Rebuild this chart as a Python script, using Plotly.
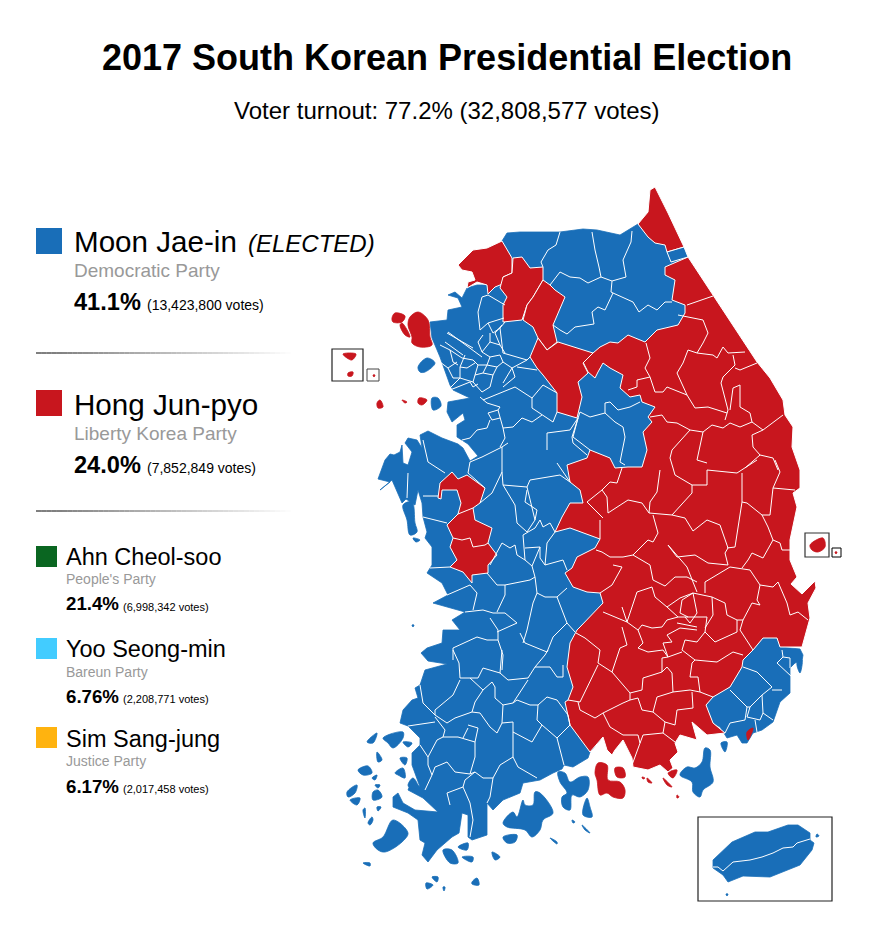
import plotly.graph_objects as go

BLUE = "#196EB8"
RED = "#C8161E"
GREY = "#999999"
FONT = "Liberation Sans"

# outlines, in picture pixels
blue_west = [(502,241),(507,233),(520,232),(543,232),(560,232),(583,229),(597,230),(620,235),(638,224),(648,237),(655,243),
    (665,245),(667,252),(671,262),(688,257),(690,330),(660,480),(620,620),(600,740),(590,752),(588,758),(573,767),(564,765),
    (562,769),(553,773),(540,780),(523,783),(520,793),(503,800),(493,810),(487,803),(487,835),(472,840),(468,837),(468,815),
    (462,813),(459,833),(452,837),(437,850),(428,862),(422,855),(425,843),(420,840),(418,820),(408,813),(393,807),(393,797),
    (398,793),(403,803),(415,810),(438,812),(423,798),(408,790),(412,780),(420,787),(412,765),(412,753),(420,745),(420,738),
    (408,726),(400,723),(403,710),(412,700),(418,698),(415,688),(420,685),(425,670),(447,664),(428,661),(421,653),(427,648),
    (442,643),(443,630),(460,630),(452,620),(465,612),(433,603),(448,595),(442,583),(427,573),(432,565),(432,547),(425,538),
    (427,532),(423,517),(422,503),(418,490),(415,505),(406,499),(402,503),(392,480),(380,490),(390,482),(378,479),(385,460),
    (390,454),(394,455),(400,452),(402,445),(403,463),(408,465),(412,452),(405,443),(408,438),(417,440),(422,448),(420,435),
    (428,431),(442,438),(458,444),(463,448),(470,461),(478,456),(468,444),(457,437),(457,425),(465,420),(463,413),(452,422),
    (447,412),(448,402),(470,398),(453,390),(450,385),(445,370),(440,357),(432,338),(430,322),(447,320),(448,310),(462,307),
    (458,298),(448,295),(455,292),(462,298),(467,288),(477,285),(488,285),(495,270)]
blue_busan = [(800,649),(803,655),(802,661),(795,663),(790,668),(790,693),(780,702),(773,722),(762,730),(753,733),(747,743),(742,743),(737,735),
    (727,738),(720,727),(713,723),(706,705),(713,697),(730,687),(742,667),(743,660),(753,650),(763,638),(777,638),(780,647)]
blue_sokcho = [(667,252),(684,247),(688,257),(671,262)]
blue_islands = [
    [(418,367),(427,358),(435,363),(425,372),(420,372)], [(432,398),(438,398),(441,406),(433,410)],
    [(403,505),(412,502),(415,523),(417,532),(410,535),(407,520)], [(413,538),(420,540),(416,542)],
    [(373,843),(383,837),(393,820),(408,833),(402,842),(385,852),(378,850)], [(367,742),(377,733),(373,743)],
    [(383,738),(403,732),(403,738),(393,748),(388,743)], [(403,742),(412,743),(408,747)], [(377,752),(382,760),(378,762)],
    [(400,758),(407,758),(405,765)], [(358,770),(368,766),(372,773),(363,775)], [(395,773),(403,768),(405,778),(398,775)],
    [(372,778),(377,775),(375,780)], [(408,785),(413,778),(418,787),(410,788)], [(375,785),(380,785),(378,788)],
    [(347,792),(357,785),(355,793),(348,797)], [(373,792),(378,790),(382,797),(373,800)], [(350,800),(360,798),(357,805)],
    [(377,807),(381,807),(378,811)], [(363,810),(365,808),(365,818)], [(368,823),(372,817),(373,820),(370,825)],
    [(363,863),(370,863),(370,866)], [(443,850),(452,850),(458,863),(450,863)], [(458,847),(468,843),(467,850)],
    [(462,857),(473,857),(472,862)], [(492,852),(500,857),(495,860)], [(432,877),(438,877),(437,882)],
    [(426,883),(433,885),(427,889)], [(472,882),(477,878),(479,885),(472,884)], [(443,887),(445,887),(444,891)],
    [(503,823),(513,812),(517,817),(523,800),(525,805),(533,805),(535,792),(540,793),(553,813),(543,820),(540,830),(532,837),(525,830),(507,827)],
    [(503,837),(517,835),(515,842),(507,843)], [(550,838),(557,842),(557,844)],
    [(558,772),(565,773),(570,782),(580,777),(588,777),(588,790),(580,797),(572,795),(570,810),(563,807),(562,797),(567,793),(560,782)],
    [(587,798),(590,807),(592,817),(583,815)], [(582,825),(590,833),(585,830)], [(572,820),(575,822),(573,823)],
    [(705,748),(710,750),(710,767),(713,782),(703,790),(700,797),(693,792),(692,782),(680,775),(687,767),(695,768),(702,762)],
    [(721,743),(727,742),(725,752)], [(742,735),(745,735),(743,743)], [(797,663),(802,660),(800,673)],
    [(412,625),(414,625),(413,627)], [(817,834),(819,836),(816,837)], [(726,894),(728,894),(727,896)],
]
jeju = [(713,860),(732,842),(755,832),(768,832),(788,825),(798,825),(810,833),(810,840),(814,843),(812,850),(800,865),(788,870),
    (770,877),(743,876),(728,882),(723,875),(713,868)]

red_east = [(688,257),(713,295),(745,343),(757,362),(770,378),(783,400),(785,415),(793,427),(792,447),(800,470),(800,488),(793,493),
    (797,507),(793,527),(790,540),(790,560),(797,577),(791,584),(802,594),(815,581),(816,588),(808,603),(810,618),(802,647),
    (780,647),(777,638),(763,638),(753,650),(743,660),(742,667),(730,687),(713,697),(706,705),(713,723),(725,733),(707,735),
    (692,722),(697,740),(680,735),(675,743),(678,752),(670,760),(673,768),(668,772),(660,765),(648,770),(633,767),(632,758),
    (623,740),(615,750),(612,755),(607,750),(603,737),(590,752),(570,725),(565,702),(568,700),(573,687),(567,667),(570,643),
    (577,630),(580,627),(603,603),(600,593),(587,592),(573,587),(565,573),(572,568),(577,557),(595,548),(600,539),(570,528),
    (555,532),(562,517),(570,503),(583,503),(580,490),(570,482),(567,465),(587,458),(590,450),(610,458),(615,468),(628,467),
    (642,467),(647,450),(643,432),(652,422),(648,417),(655,407),(642,402),(640,395),(630,397),(620,388),(623,375),(610,368),
    (603,363),(598,372),(595,378),(588,372),(583,362),(593,353),(600,347),(610,342),(618,343),(628,335),(645,342),(657,330),
    (678,325),(685,313),(685,305),(672,300),(675,280),(665,275),(665,267)]
red_tip = [(638,224),(648,212),(650,190),(655,187),(668,213),(684,247),(667,252),(665,245),(655,243),(648,237)]
red_northwest = [(502,241),(512,258),(512,273),(503,277),(505,283),(495,287),(488,294),(487,285),(477,282),(467,288),(468,282),
    (475,280),(472,272),(462,270),(458,265),(473,250),(487,248)]
red_pocheon = [(513,258),(522,257),(530,268),(543,267),(543,280),(533,297),(527,305),(522,320),(503,322),(503,305),(507,297),(500,288),(503,277),(512,273)]
red_gapyeong = [(543,280),(550,285),(555,290),(565,297),(553,325),(557,342),(547,350),(538,338),(533,327),(523,320),(527,305),(533,297)]
red_yeoju = [(530,357),(538,338),(547,350),(558,342),(593,353),(583,363),(588,373),(578,382),(582,397),(577,418),(557,412),(557,393),(543,375),(537,368)]
red_jeonbuk = [(438,498),(440,483),(452,472),(458,479),(467,475),(485,488),(480,503),(473,508),(475,520),(485,525),(492,528),
    (488,543),(497,555),(488,565),(488,573),(472,575),(472,583),(463,572),(450,567),(457,560),(450,547),(453,538),(447,525),
    (458,514),(461,503),(457,490),(442,490),(441,499)]
red_mainland = [red_east, red_tip, red_northwest, red_pocheon, red_gapyeong, red_yeoju, red_jeonbuk]
red_islands = [
    [(410,317),(418,312),(428,320),(430,337),(432,345),(420,347),(412,343),(412,337),(408,325)],
    [(402,323),(410,337),(405,335),(400,325)], [(392,318),(395,313),(405,316),(402,322),(393,322)],
    [(377,403),(380,400),(383,407),(378,408)], [(402,400),(407,402),(405,403)], [(419,398),(427,400),(422,405),(418,403)],
    [(595,773),(598,763),(607,765),(608,780),(620,782),(625,790),(623,798),(613,797),(607,793),(600,795),(597,780)],
    [(668,773),(677,770),(673,778)], [(663,778),(672,787),(667,785)], [(647,778),(652,783),(648,782)],
    [(615,768),(623,768),(625,777),(617,777)], [(642,777),(645,778),(643,779)], [(677,795),(679,797),(677,798)],
    [(747,732),(753,728),(750,737),(748,740)],
    [(343,354),(356,354),(352,360),(347,358)], [(348,373),(353,372),(352,376),(348,376)], [(373,375),(375,375),(374,377)],
    [(810,545),(823,538),(825,547),(818,552),(812,550)], [(835,552),(837,552),(836,554)],
]

# district borders
borders_north = [
    [(592,232),(595,250),(599,267),(601,277),(612,281),(611,292),(613,293),(605,310),(598,307),(592,312),(594,324),(575,327),(567,334),(560,330),(553,325)],
    [(632,231),(631,242),(623,260),(626,277),(612,281)],
    [(601,277),(588,283),(580,278),(570,277),(560,272),(550,285)],
    [(613,293),(633,302),(639,312),(648,305),(657,310),(665,302),(672,302)],
    [(560,232),(556,245),(548,250),(541,262),(543,267)],
    [(488,295),(482,297),(478,312),(480,330),(488,323),(504,318)], [(488,295),(505,305)],
    [(488,323),(493,333),(500,328),(505,322)], [(447,333),(473,348)], [(445,342),(463,355)],
    [(500,328),(503,353),(527,360),(530,357)], [(527,360),(512,368),(515,377),(503,387)],
    [(537,370),(517,367)], [(543,385),(532,398),(532,408),(542,415),(553,422),(557,412)], [(543,385),(557,393)],
    [(515,387),(532,398)], [(515,387),(500,393),(483,400)], [(450,390),(470,382),(473,387),(478,384)],
    [(480,397),(487,403),(500,407),(498,410),(503,428),(513,427),(522,418),(532,422),(542,415)],
    [(498,410),(488,413),(492,420),(500,418)], [(490,420),(487,428),(477,430),(470,438),(462,440)],
    [(503,428),(505,438),(500,447)], [(547,433),(547,450)], [(547,433),(570,430),(578,418)], [(578,418),(573,437),(590,450)],
    [(448,332),(473,350),(482,357)], [(440,345),(450,350),(462,358),(473,360)], [(465,355),(460,367),(467,368),(475,363)],
    [(450,350),(453,362),(458,365)], [(440,362),(448,368),(457,362)], [(483,335),(478,342),(482,352),(490,342),(500,345)],
    [(490,333),(490,342)], [(502,325),(495,333),(500,345),(505,353)],
    [(482,352),(490,357),(500,355),(503,362),(497,367),(487,365),(478,365),(473,360)],
    [(490,357),(487,365),(483,373),(493,375),(497,367)], [(478,365),(475,375),(483,373)], [(503,362),(512,368),(503,383)],
    [(493,375),(490,387),(482,392),(473,382),(475,375)], [(473,382),(460,378),(460,367)], [(460,378),(450,388)],
    [(448,368),(453,378),(460,378)],
    # inland blue pocket
    [(605,403),(610,402),(618,410),(630,407),(640,402)],
    [(605,403),(605,413),(615,422),(623,427),(625,437),(623,447),(620,462),(625,465)],
    [(580,412),(590,417),(605,413)], [(580,412),(572,437),(573,443),(587,455)],
]
borders_east = [
    [(678,315),(687,317),(703,320),(708,333),(703,343),(697,353),(688,350),(683,363),(677,373),(687,395),(667,387),(663,392),(655,392),(650,377),(645,368),(650,358),(646,343)],
    [(687,305),(713,296)], [(697,353),(713,355),(717,358),(723,347),(728,353),(745,352)],
    [(733,355),(735,365),(723,377),(721,383),(728,410),(725,420)], [(735,368),(740,370),(757,363)],
    [(687,395),(695,408),(708,407),(727,413)], [(650,377),(637,380),(637,387),(628,390)],
    [(730,410),(733,388),(740,385),(740,407),(750,413),(752,422),(763,430),(783,415)],
    [(752,422),(740,427),(730,423),(723,428),(712,425),(703,432),(690,430),(677,423),(667,422),(662,415),(650,417)],
    [(763,430),(752,435),(753,447),(760,455),(745,468)], [(760,455),(773,458),(778,470)],
    [(703,432),(697,460),(707,463)], [(690,430),(672,450),(670,458),(673,468)],
    [(742,473),(742,502),(735,547),(727,548)], [(775,460),(780,472),(773,488),(770,515),(762,515),(747,503),(742,502)],
    [(773,488),(795,490)], [(762,515),(768,527),(773,540),(780,543),(782,550),(790,550)],
    [(773,540),(763,558),(752,553),(748,560),(742,568)], [(707,470),(737,473),(757,460)],
    [(673,468),(675,475),(692,485),(707,485),(707,470)],
    [(692,485),(692,493),(672,515),(685,518),(693,531),(707,520),(720,525),(728,548),(725,553),(728,565),(708,563),(695,555),(677,557),(668,545),(687,567),(697,592)],
    [(660,470),(657,492),(650,502),(649,513),(672,515)], [(622,468),(617,483),(610,482),(602,490),(587,502)],
    [(602,490),(607,497),(608,513),(628,500),(642,503),(649,513)],
    [(653,515),(658,533),(653,542),(648,540),(633,555),(650,565),(653,580),(665,586),(675,577),(687,577),(697,582)],
    [(600,520),(600,539)], [(587,502),(603,518)], [(596,550),(602,552),(610,557),(623,557),(633,555)],
    [(613,565),(622,567),(612,585),(600,593)],
    [(652,587),(655,597),(667,607),(680,598),(693,593),(712,597),(713,615),(705,628)],
    [(705,582),(730,567),(750,570),(760,585),(757,600),(760,605),(752,603),(743,620)],
    [(760,585),(773,587),(778,582),(787,603),(790,615),(798,612),(808,620)], [(705,582),(705,593)],
    [(712,597),(725,603),(727,615),(737,620),(743,620)], [(743,620),(740,630),(753,650)],
    [(737,620),(737,632),(715,642),(705,632),(697,642),(685,640),(682,650),(695,660),(717,662),(733,652),(743,655)],
    [(667,607),(678,617),(707,617),(705,632)], [(693,593),(682,600),(680,613),(688,617)], [(693,593),(697,613),(690,623),(685,617)],
    [(677,623),(697,627)], [(627,622),(603,612)], [(627,622),(637,592),(652,587)],
    [(622,607),(627,622),(638,630),(642,625),(652,628),(662,627),(667,620),(678,617)],
    [(638,630),(643,643),(638,648),(648,652),(663,650),(668,657),(682,652)], [(667,635),(672,642),(663,643),(668,657),(662,658),(662,672),(643,678),(642,690),(630,693),(612,672),(620,648),(627,645),(622,627)],
    [(667,635),(680,628),(697,630)],
    [(576,633),(585,638),(600,650),(598,663),(612,672)], [(598,665),(580,702),(568,700)],
    [(578,702),(580,710),(595,718),(603,713),(623,703),(630,700),(630,693)],
    [(630,700),(638,698),(642,710),(653,712),(657,697),(673,692),(672,673),(667,667),(662,672)],
    [(673,692),(690,690),(700,692),(698,677),(690,677),(692,663),(695,660)], [(692,692),(693,708),(677,710),(675,725),(665,722),(653,712)],
    [(665,722),(663,733),(643,735),(640,743),(632,765)], [(603,713),(610,727),(623,735),(638,735),(640,743)], [(663,733),(675,742)],
    [(700,692),(713,697)], [(453,538),(462,540),(470,538),(473,547),(485,545),(488,543)], [(458,514),(473,508)],
]
borders_busan = [
    [(743,667),(757,672),(772,687),(762,695),(763,713),(773,720)], [(730,690),(747,707),(750,707),(762,695)],
    [(747,707),(745,720),(730,723),(725,733)], [(772,690),(782,690)], [(782,650),(783,657),(777,663),(792,677)],
    [(783,657),(790,658),(790,668)], [(750,707),(747,717),(760,720),(763,713)], [(755,720),(757,732)],
]
borders_south = [
    [(423,440),(428,462),(445,473)], [(470,462),(468,473),(485,488)], [(470,462),(482,457),(502,447),(508,443)],
    [(502,447),(502,472),(492,493),(480,503)], [(502,472),(503,485),(527,487),(530,480),(560,475),(570,482)],
    [(503,485),(515,505),(517,523),(527,532),(535,520),(527,487)], [(527,490),(525,502),(537,510),(535,520)],
    [(557,463),(570,482)], [(408,473),(407,498)], [(423,496),(438,496)], [(423,517),(447,523)], [(430,568),(450,567)],
    [(447,595),(470,585),(477,593),(473,610)], [(465,612),(483,610),(493,613),(505,613),(517,623),(497,632)],
    [(490,618),(498,630),(498,640)], [(487,573),(497,585),(505,585),(505,595),(497,612)],
    [(505,585),(530,580),(535,577),(537,593),(533,603),(527,630),(523,643)],
    [(490,565),(502,543),(510,548),(515,545),(517,555),(525,560),(532,566),(535,577)], [(532,566),(540,547),(525,548)],
    [(525,560),(523,535),(535,528),(540,520),(543,527),(550,523),(555,532),(547,543),(545,565),(563,560),(567,570)],
    [(545,565),(540,558),(540,547)], [(537,593),(545,597),(557,597),(563,613),(567,623),(575,632)], [(557,597),(567,588)],
    [(525,643),(547,652),(553,637),(567,623)], [(520,633),(525,643)], [(498,640),(503,655),(502,670)],
    [(453,648),(467,642),(477,637),(487,640),(498,640)], [(453,648),(453,660)],
    [(453,650),(459,663),(460,678),(478,678),(483,668),(500,673),(502,650)],
    [(500,673),(508,680),(528,678),(535,667),(550,667),(557,677),(563,677),(563,665)], [(535,667),(545,655),(548,650)],
    [(528,680),(513,703),(503,705),(495,698),(495,687),(492,682),(483,690),(470,678)],
    [(460,680),(455,690),(453,695),(435,710),(435,715),(423,703),(420,685)],
    [(483,690),(475,702),(472,712),(480,713),(490,727),(497,733),(502,723),(503,705)],
    [(472,712),(455,718),(447,723),(435,715)], [(435,722),(408,726)], [(435,717),(445,730),(443,737),(458,737),(475,742),(478,728),(468,725)],
    [(443,737),(437,740),(428,757),(420,745)], [(428,757),(428,765),(432,775),(425,790)],
    [(432,775),(435,767),(440,765),(447,762),(455,772),(470,774),(475,757),(475,742)],
    [(470,774),(475,772),(483,778),(493,778),(500,765),(513,757),(513,722),(502,723)],
    [(513,732),(532,742),(542,725),(537,720),(538,705),(530,705),(517,700),(513,703)],
    [(538,705),(547,697),(557,700),(568,715),(570,725),(557,738),(542,725)], [(557,738),(560,750),(564,765)],
    [(513,757),(518,767),(537,778)], [(493,778),(490,797),(487,803)], [(475,772),(465,780),(463,787),(447,793),(450,805)],
    [(463,787),(470,803),(473,820),(470,837)], [(468,728),(463,738)],
]
borders_jeju = [[(713,867),(718,867),(723,871),(733,862),(750,860),(762,857),(773,853),(783,848),(793,847),(797,843),(810,839)]]

# candidate panel
names = ["Moon Jae-in", "Hong Jun-pyo", "Ahn Cheol-soo", "Yoo Seong-min", "Sim Sang-jung"]
parties = ["Democratic Party", "Liberty Korea Party", "People's Party", "Bareun Party", "Justice Party"]
shares = ["41.1%", "24.0%", "21.4%", "6.76%", "6.17%"]
votes = ["(13,423,800 votes)", "(7,852,849 votes)", "(6,998,342 votes)", "(2,208,771 votes)", "(2,017,458 votes)"]
colors = [BLUE, RED, "#0A6621", "#42CCFF", "#FFB30F"]
swatch_top = [228, 390, 546, 638, 727]
name_y = [241, 404, 557, 649, 739]
party_y = [270, 433, 579, 672, 761]
share_y = [302, 465, 603, 696, 786]
vote_y = [305, 468, 607, 699, 789]
divider_y = [353, 511]


def closed(polys):
    xs, ys = [], []
    for poly in polys:
        for x, y in poly + poly[:1]:
            xs.append(x)
            ys.append(y)
        xs.append(None)
        ys.append(None)
    return xs, ys


def split_lines(lines):
    xs, ys = [], []
    for line in lines:
        for x, y in line:
            xs.append(x)
            ys.append(y)
        xs.append(None)
        ys.append(None)
    return xs, ys


fig = go.Figure()


def add_fill(polys, color, outline=None, shape="linear"):
    xs, ys = closed(polys)
    fig.add_trace(go.Scatter(x=xs, y=ys, mode="lines", fill="toself", fillcolor=color, hoverinfo="skip",
                             line=dict(color=outline or color, width=1 if outline else 0.8, shape=shape)))


add_fill([blue_west, blue_busan, jeju], BLUE)
add_fill(blue_islands, BLUE, shape="spline")
add_fill(red_islands, RED, shape="spline")
for poly in red_mainland:
    add_fill([poly], RED, "white")
add_fill([blue_sokcho], BLUE, "white")

xs, ys = split_lines(borders_north + borders_east + borders_busan + borders_south + borders_jeju)
fig.add_trace(go.Scatter(x=xs, y=ys, mode="lines", line=dict(color="white", width=1), hoverinfo="skip"))


def add_text(x, y, text, size, color="black", bold=False, italic=False, anchor="left"):
    if bold:
        text = "<b>" + text + "</b>"
    if italic:
        text = "<i>" + text + "</i>"
    fig.add_annotation(x=x, y=y, text=text, showarrow=False, xanchor=anchor, yanchor="middle",
                       font=dict(family=FONT, size=size, color=color))


add_text(447, 57, "2017 South Korean Presidential Election", 36, bold=True, anchor="center")
add_text(447, 110, "Voter turnout: 77.2% (32,808,577 votes)", 24, anchor="center")
add_text(246, 243, "(ELECTED)", 24, italic=True)

for i in range(5):
    big = i < 2
    left = 72 if big else 64
    side = 26 if big else 21
    fig.add_shape(type="rect", x0=36, x1=36 + side, y0=swatch_top[i], y1=swatch_top[i] + side,
                  fillcolor=colors[i], line_width=0)
    add_text(left, name_y[i], names[i], 29.6 if big else 23.5)
    add_text(left, party_y[i], parties[i], 19 if big else 14, color=GREY)
    add_text(left, share_y[i], shares[i], 23.6 if big else 18.7, bold=True)
    add_text(145 if big else 121, vote_y[i], votes[i], 14 if big else 11)

# dividers fade out to the right
for y in divider_y:
    for k in range(50):
        shade = int(255 * min(1, max(0, (k - 3) / 46)))
        fig.add_shape(type="line", x0=36 + k * 5.2, x1=36 + (k + 1) * 5.2, y0=y, y1=y,
                      line=dict(color=f"rgb({shade},{shade},{shade})", width=1))

# inset frames
fig.add_shape(type="rect", x0=332, x1=363, y0=349, y1=381, line=dict(color="#222222", width=1.2))
fig.add_shape(type="rect", x0=367, x1=379, y0=369, y1=381, line=dict(color="#444444", width=1))
fig.add_shape(type="rect", x0=805, x1=829, y0=533, y1=557, line=dict(color="#333333", width=1.2))
fig.add_shape(type="rect", x0=832, x1=841, y0=548, y1=557, line=dict(color="black", width=1))
fig.add_shape(type="rect", x0=698, x1=832, y0=817, y1=901, line=dict(color="#222222", width=1.2))

fig.update_layout(
    width=863, height=923, autosize=False,
    margin=dict(l=0, r=0, t=0, b=0),
    paper_bgcolor="white", plot_bgcolor="white", showlegend=False,
    xaxis=dict(range=[8, 871], visible=False, fixedrange=True),
    yaxis=dict(range=[931, 8], visible=False, fixedrange=True),
)
fig.write_html("out.html")
